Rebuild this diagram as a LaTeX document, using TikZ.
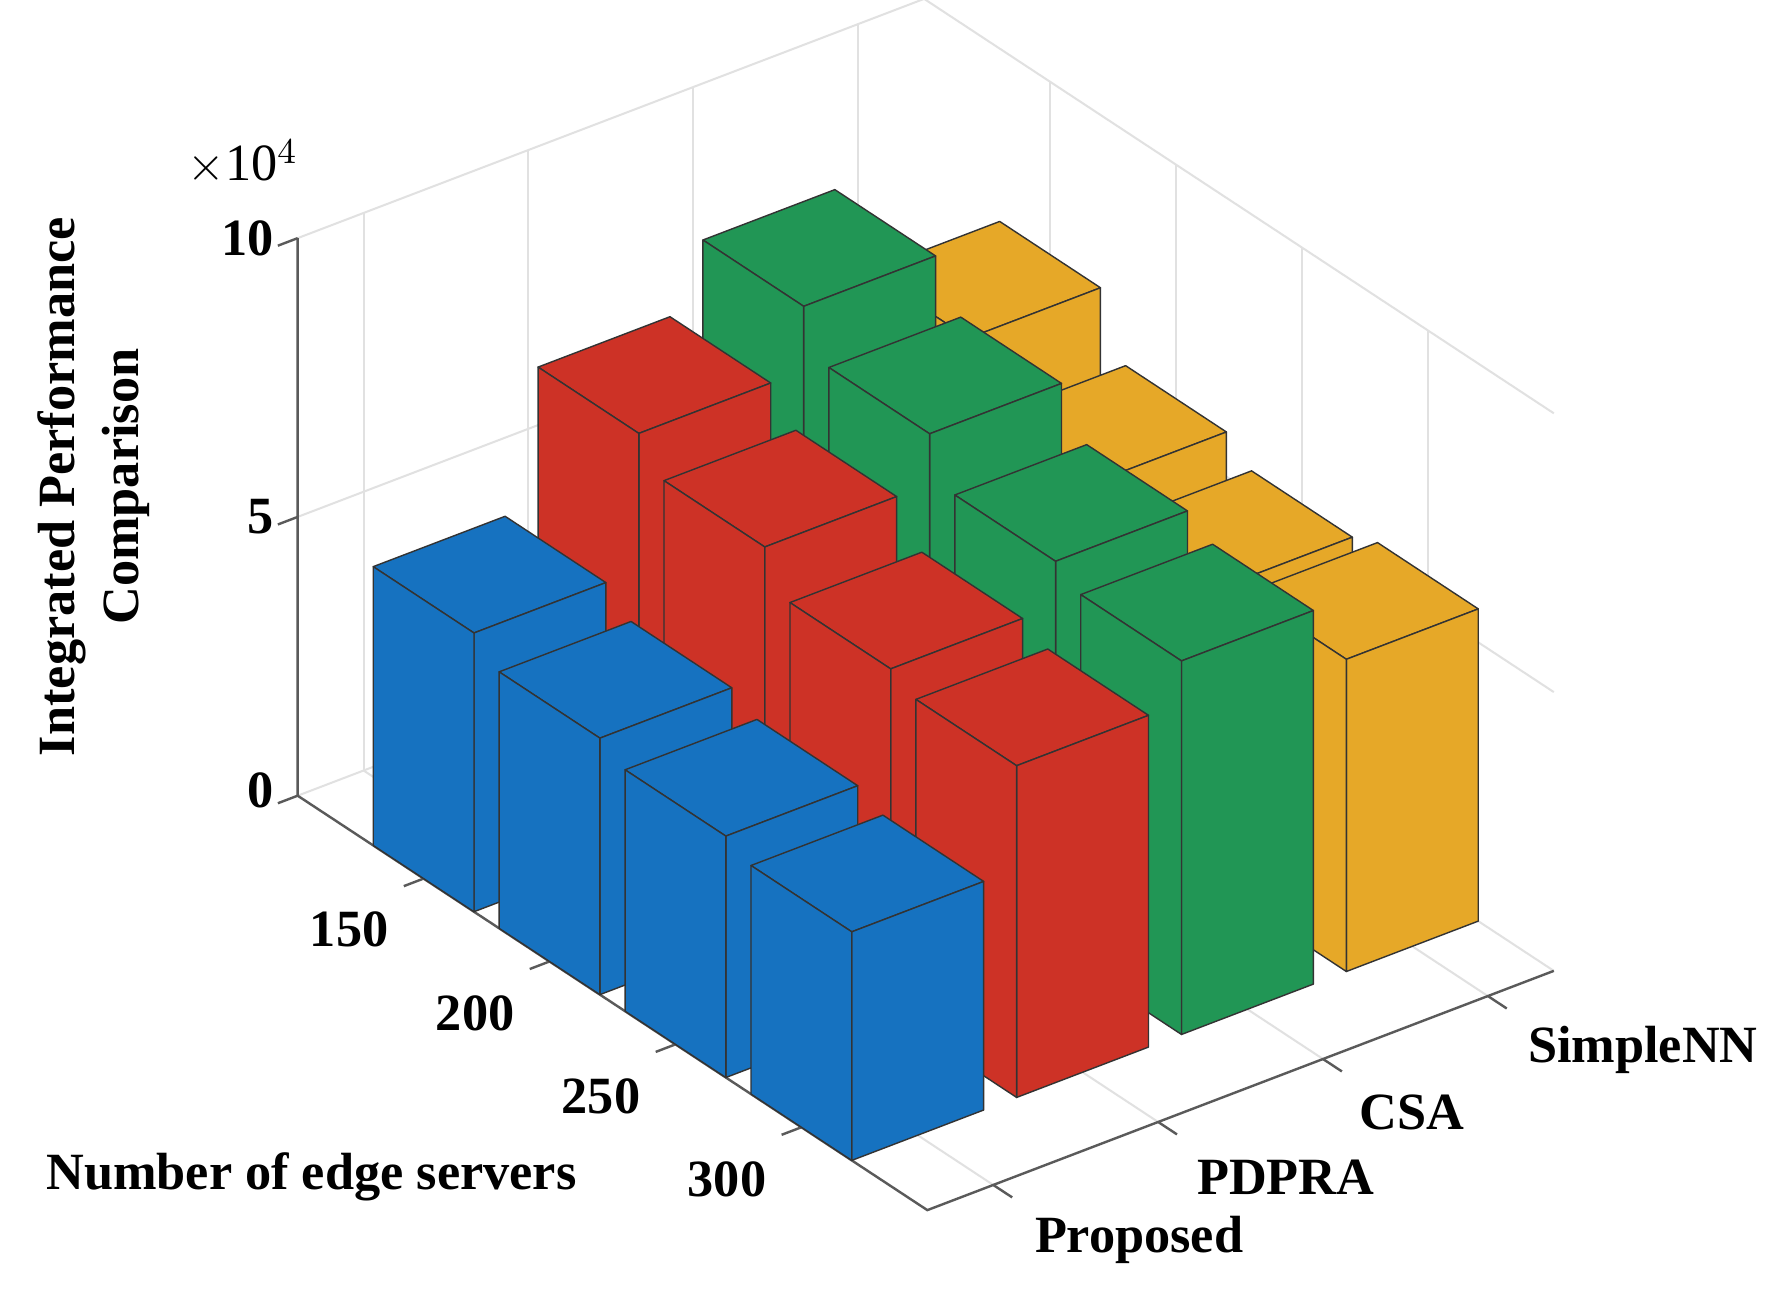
\documentclass[tikz,border=0pt]{standalone}
\usepackage{fontspec}
\setmainfont{Liberation Serif}
\definecolor{cBlue}{RGB}{22,114,192}
\definecolor{cRed}{RGB}{205,50,38}
\definecolor{cGreen}{RGB}{33,150,85}
\definecolor{cYellow}{RGB}{230,168,40}
\definecolor{gridc}{RGB}{225,225,225}
\definecolor{axc}{RGB}{90,90,90}
\newcommand\barthree[4]{%
  \filldraw[fill=#4,draw=black!80,line width=0.35pt,line join=round]
    ({#1-.4},0{#2-.4},#3)--({#1+.4},{#2-.4},#3)--({#1+.4},{#2+.4},#3)--({#1-.4},{#2+.4},#3)--cycle;
  \filldraw[fill=#4,draw=black!80,line width=0.35pt,line join=round]
    ({#1+.4},{#2-.4},0)--({#1+.4},{#2+.4},0)--({#1+.4},{#2+.4},#3)--({#1+.4},{#2-.4},#3)--cycle;
  \filldraw[fill=#4,draw=black!80,line width=0.35pt,line join=round]
    ({#1-.4},{#2-.4},0)--({#1+.4},{#2-.4},0)--({#1+.4},{#2-.4},#3)--({#1-.4},{#2-.4},#3)--cycle;
}
\tikzset{lab/.style={font=\fontsize{13}{15}\selectfont\bfseries,inner sep=0pt},
  gridl/.style={draw=gridc,line width=0.5pt},
  axl/.style={draw=axc,line width=0.6pt}}
\begin{document}
\begin{tikzpicture}[x=0.1mm,y=-0.1mm]
\useasboundingbox (0,0) rectangle (1560,1127);
\fill[white] (0,0) rectangle (1560,1127);
\begin{scope}[shift={(26mm,-69.5mm)},x={(11mm,-7.24mm)},y={(14.4mm,5.5mm)},z={(0mm,4.87mm)}]
  \begin{scope}
    \clip (-10,-10,0) -- (-10,10,0) -- (-10,10,10.3) -- (10,10,10.3) -- (10,-10,10.3) -- cycle;
    % left wall u=0
    \foreach \v in {0.4,1.4,2.4,3.4} \draw[gridl] (0,\v,0)--(0,\v,10);
    \foreach \w in {5,10} \draw[gridl] (0,0,\w)--(0,3.8,\w);
    % right wall v=3.8
    \foreach \u in {1,2,3,4} \draw[gridl] (\u,3.8,0)--(\u,3.8,10);
    \foreach \w in {5,10} \draw[gridl] (0,3.8,\w)--(5,3.8,\w);
    % floor
    \foreach \v in {0.4,1.4,2.4,3.4} \draw[gridl] (0,\v,0)--(5,\v,0);
    \foreach \u in {1,2,3,4} \draw[gridl] (\u,0,0)--(\u,3.8,0);
    \draw[gridl] (0,0,0)--(0,3.8,0)--(5,3.8,0);
  \end{scope}
  % axes
  \coordinate (o) at (0,0,0);
  \coordinate (ztop) at (0,0,10);
  \coordinate (uend) at (5,0,0);
  \coordinate (vend) at (5,3.8,0);
  \draw[axl] (ztop)--(o)--(uend)--(vend);
  \foreach \w in {0,5,10} \draw[axl] (0,0,\w)--(0,-0.12,\w);
  \foreach \u in {1,2,3,4} \draw[axl] (\u,0,0)--(\u,-0.12,0);
  \foreach \v in {0.4,1.4,2.4,3.4} \draw[axl] (5,\v,0)--(5.15,\v,0);
  % bars: order u ascending, v descending
  \barthree{1}{3.4}{6.9}{cYellow}
  \barthree{1}{2.4}{8.6}{cGreen}
  \barthree{1}{1.4}{7.45}{cRed}
  \barthree{1}{0.4}{5.0}{cBlue}
  \barthree{2}{3.4}{5.8}{cYellow}
  \barthree{2}{2.4}{7.8}{cGreen}
  \barthree{2}{1.4}{6.9}{cRed}
  \barthree{2}{0.4}{4.6}{cBlue}
  \barthree{3}{3.4}{5.4}{cYellow}
  \barthree{3}{2.4}{7.0}{cGreen}
  \barthree{3}{1.4}{6.2}{cRed}
  \barthree{3}{0.4}{4.33}{cBlue}
  \barthree{4}{3.4}{5.6}{cYellow}
  \barthree{4}{2.4}{6.7}{cGreen}
  \barthree{4}{1.4}{5.95}{cRed}
  \barthree{4}{0.4}{4.1}{cBlue}
\end{scope}
% labels
\node[lab,anchor=east] (t10) at (240,208) {10};
\node[lab,anchor=east] (t5) at (240,451) {5};
\node[lab,anchor=east] (t0) at (240,690) {0};
\node[font=\fontsize{13}{15}\selectfont,inner sep=0pt] (mult) at (212,142) {$\times$10$^{4}$};
\node[lab] (s150) at (305,812) {150};
\node[lab] (s200) at (415,885) {200};
\node[lab] (s250) at (525,958) {250};
\node[lab] (s300) at (635,1030) {300};
\node[lab] (xl) at (272,1028) {Number of edge servers};
\node[lab] (c1) at (995,1083) {Proposed};
\node[lab] (c2) at (1123,1028) {PDPRA};
\node[lab] (c3) at (1233,972) {CSA};
\node[lab] (c4) at (1435,917) {SimpleNN};
\node[lab,rotate=90,align=center,font=\fontsize{13}{16}\selectfont\bfseries] (yl) at (82,425) {Integrated Performance\\Comparison};
\end{tikzpicture}
\end{document}
